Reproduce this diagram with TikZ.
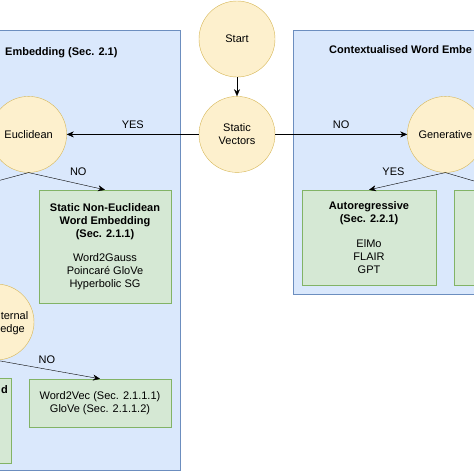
\documentclass[tikz,border=0pt]{standalone}
\usepackage{fontspec}
\setmainfont{Liberation Sans}
\usetikzlibrary{positioning}
\usetikzlibrary{arrows.meta}

\definecolor{panelFill}{HTML}{DAE8FC}
\definecolor{panelLine}{HTML}{6C8EBF}
\definecolor{boxFill}{HTML}{D5E8D4}
\definecolor{boxLine}{HTML}{82B366}
\definecolor{bubbleFill}{HTML}{FDF0CD}
\definecolor{bubbleLine}{HTML}{D6B656}

\begin{document}
\begin{tikzpicture}[x=1pt, y=-1pt, font=\fontsize{11}{13}\selectfont,
	decision/.style={circle, draw=bubbleLine, fill=bubbleFill, minimum size=76pt, inner sep=0pt, align=center},
	method/.style={draw=boxLine, fill=boxFill, align=center, inner sep=0pt},
	panel/.style={draw=panelLine, fill=panelFill},
	heading/.style={inner sep=0pt, font=\fontsize{11}{13}\selectfont\bfseries},
	>={Stealth[length=7pt, width=6pt]}]
	\useasboundingbox (0,0) rectangle (474,474);
	\clip (0,0) rectangle (474,474);
	% the two groups
	\draw[panel] (-100,30) rectangle (180,470);
	\draw[panel] (293,30) rectangle (600,294);
	\node[heading, anchor=west] (staticTitle) at (5,53) {Embedding (Sec. 2.1)};
	\node[heading, anchor=west] (contextTitle) at (329,50) {Contextualised Word Embe};
	% decisions
	\node[decision] (start) at (237,39) {Start};
	\node[decision, below=19pt of start] (static) {Static\\Vectors};
	\node[decision, left=132pt of static] (euclid) {Euclidean};
	\node[decision, right=132pt of static] (gen) {Generative};
	\node[decision] (know) at (-4,322) {};
	\node[anchor=east, align=right, inner sep=0pt] (knowText) at (28.5,323) {ternal\\edge\kern3.5pt};
	% methods
	\node[method, minimum width=132pt, minimum height=113pt] (nonEuc) at (105,246.5) {\textbf{Static Non-Euclidean}\\\textbf{Word Embedding}\\\textbf{(Sec. 2.1.1)}\\[11pt]Word2Gauss\\Poincaré GloVe\\Hyperbolic SG};
	\node[method, minimum width=142pt, minimum height=48pt] (w2v) at (100,403) {Word2Vec (Sec. 2.1.1.1)\\GloVe (Sec. 2.1.1.2)};
	\node[method, minimum width=80pt, minimum height=85pt] (based) at (-29,420.5) {};
	\node[heading, anchor=east] (basedText) at (8,390) {d};
	\node[method, minimum width=134pt, minimum height=95pt] (autoreg) at (369,237.5) {\textbf{Autoregressive}\\\textbf{(Sec. 2.2.1)}\\[12pt]ElMo\\FLAIR\\GPT};
	\node[method, minimum width=100pt, minimum height=95pt] (masked) at (504,237.5) {};
	\coordinate (euLeft) at (-40,191);
	% connectors
	\draw[->] (start) -- (static);
	\draw[->] (static) -- node[above=2pt] {YES} (euclid);
	\draw[->] (static) -- node[above=2pt] {NO} (gen);
	\draw[->] (euclid.south) -- (euLeft);
	\draw[->] (euclid.south) -- node[pos=0.65, above=5pt] {NO} (nonEuc.north);
	\draw[->] (gen.south) -- node[pos=0.68, above=5pt] {YES} (autoreg.north);
	\draw[->] (gen.south) -- (masked.north);
	\draw[->] (know.south) -- node[pos=0.49, above=2pt] {NO} (w2v.north);
\end{tikzpicture}
\end{document}
